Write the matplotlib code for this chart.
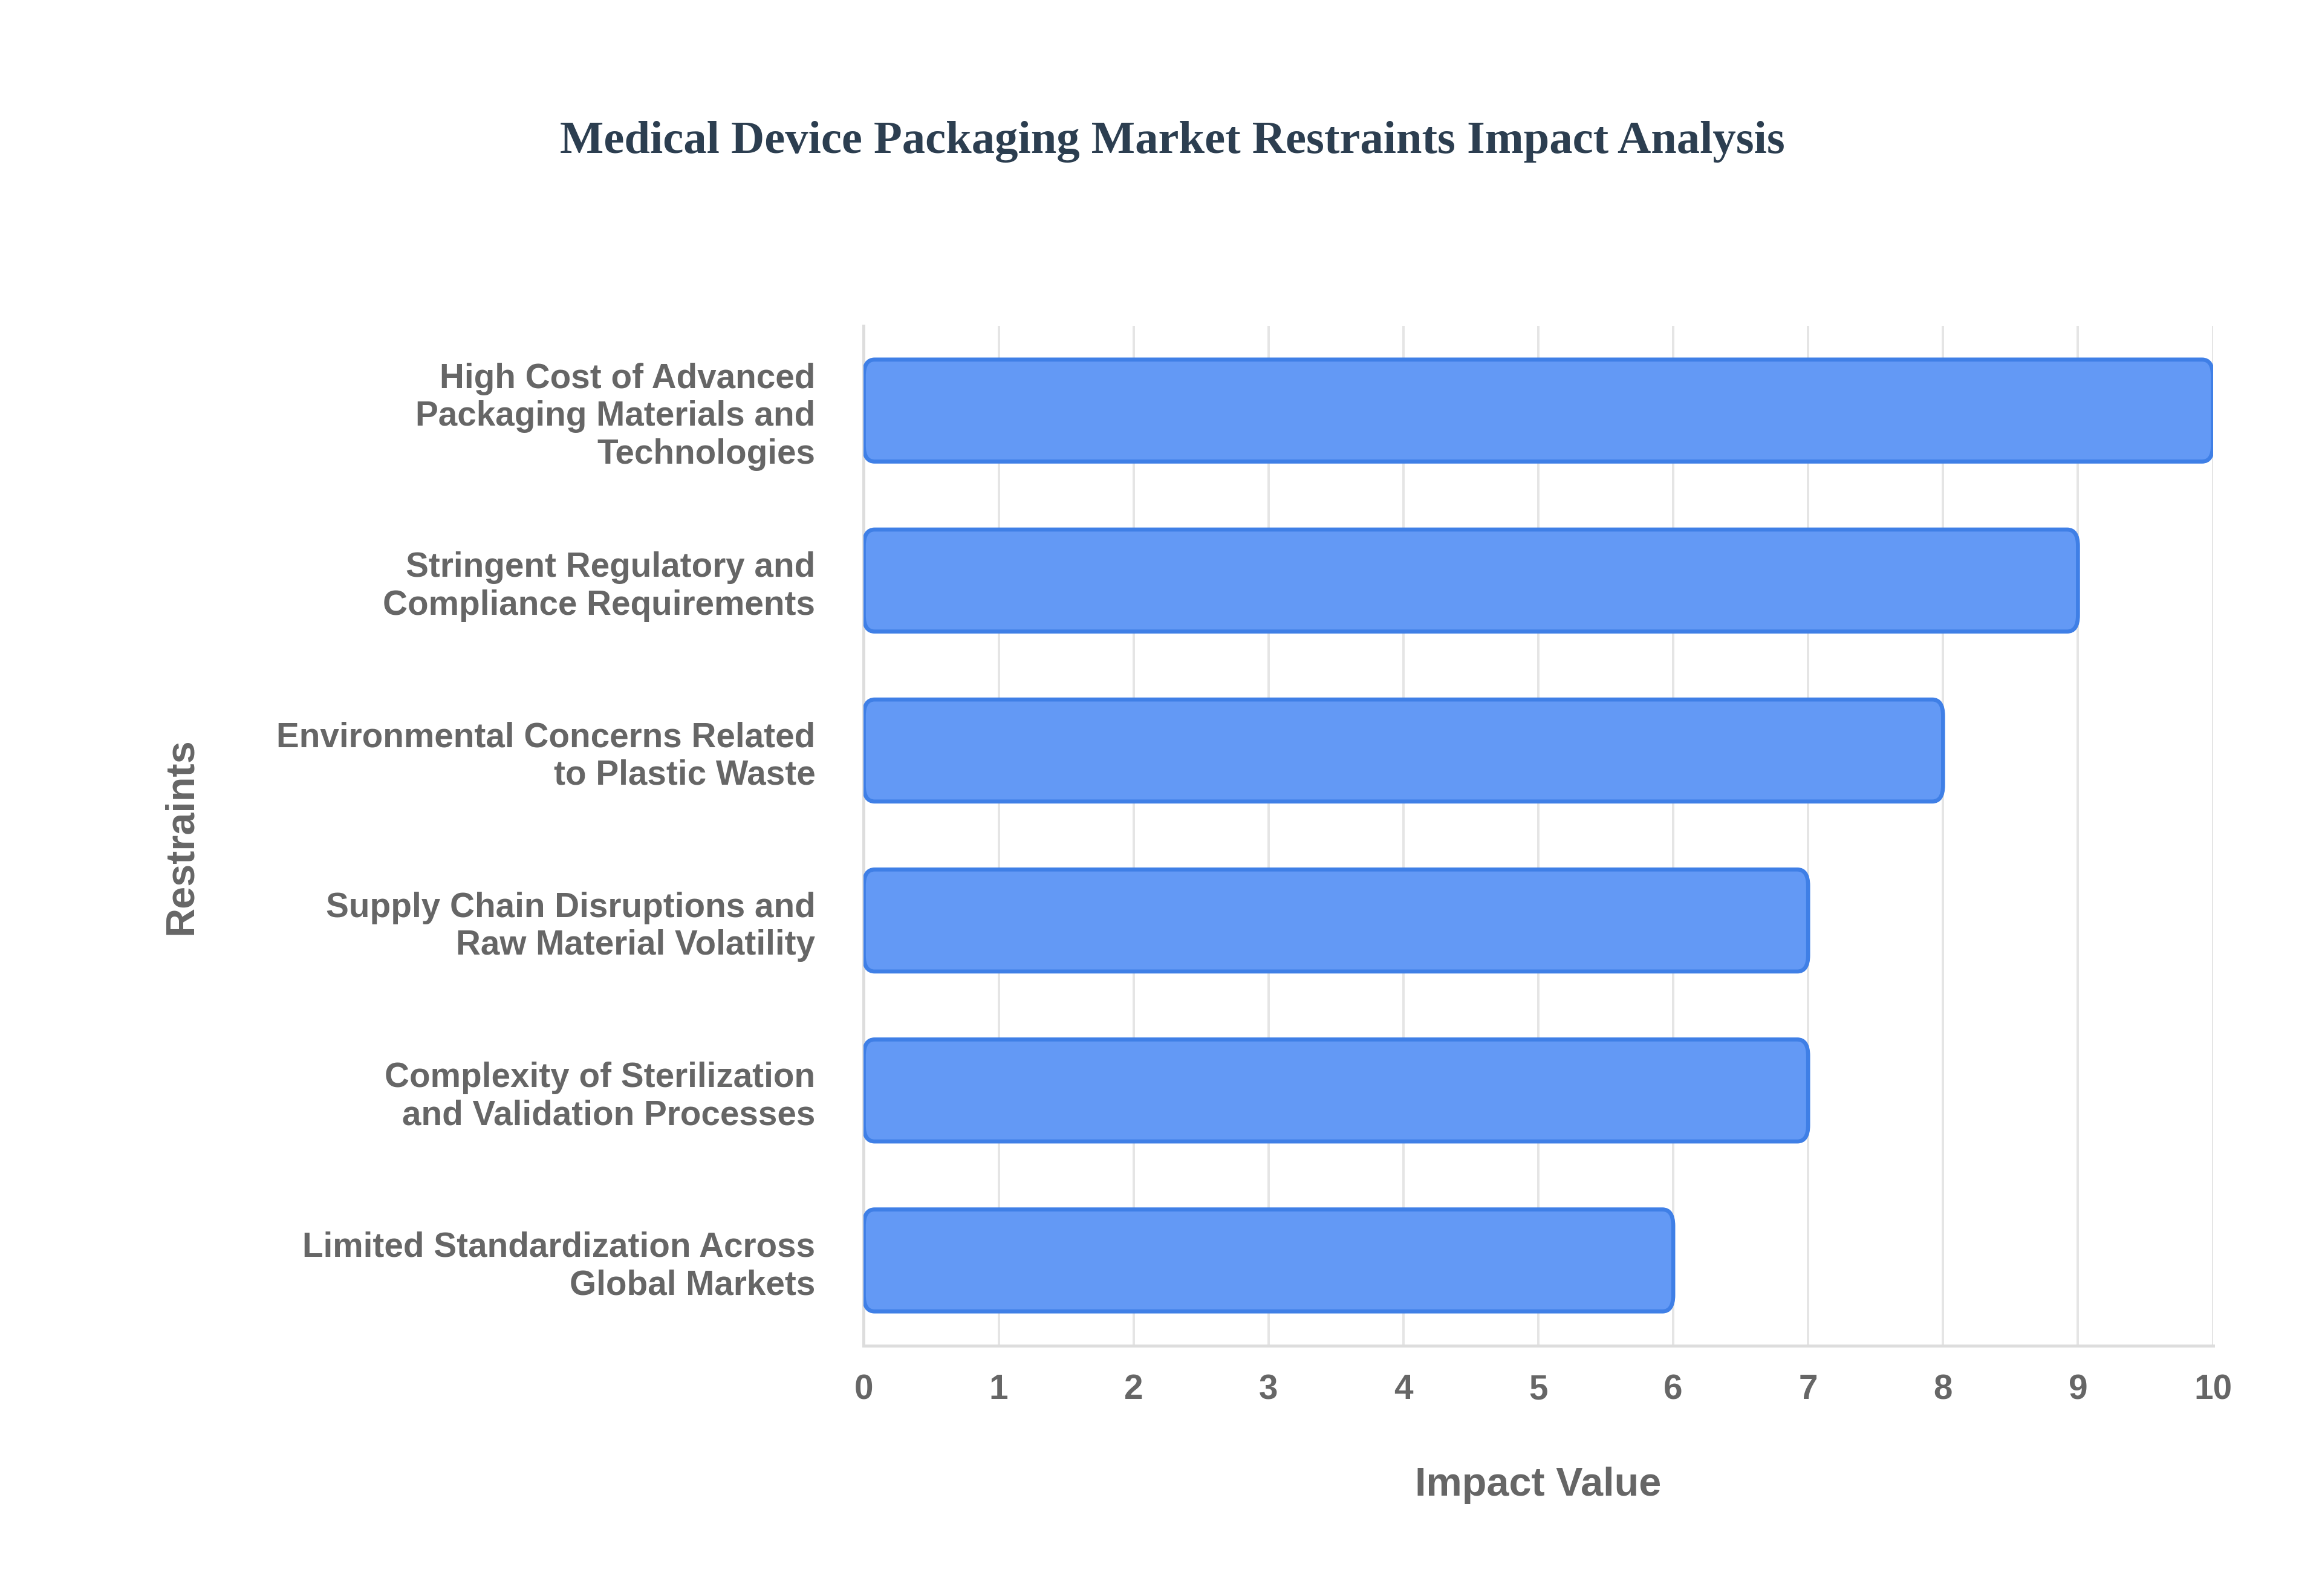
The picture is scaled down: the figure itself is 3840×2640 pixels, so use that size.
import matplotlib.pyplot as plt
from matplotlib.patches import FancyBboxPatch

restraints = [
    "High Cost of Advanced\nPackaging Materials and\nTechnologies",
    "Stringent Regulatory and\nCompliance Requirements",
    "Environmental Concerns Related\nto Plastic Waste",
    "Supply Chain Disruptions and\nRaw Material Volatility",
    "Complexity of Sterilization\nand Validation Processes",
    "Limited Standardization Across\nGlobal Markets",
]
impact = [10, 9, 8, 7, 7, 6]

plt.rcParams['font.family'] = ['Liberation Sans', 'DejaVu Sans']
fig = plt.figure(figsize=(16, 11), dpi=240)
ax = fig.add_axes([0.372, 0.157, 0.581, 0.639])

ypos = list(range(len(restraints)))[::-1]
bars = ax.barh(ypos, impact, height=0.6, color='none')
for b in bars:
    x, y, w, h = b.get_x(), b.get_y(), b.get_width(), b.get_height()
    p = FancyBboxPatch((x, y), w, h, boxstyle="round,pad=0,rounding_size=0.08",
                       mutation_aspect=1.2, facecolor='#6399F5', edgecolor='#3F7FE6',
                       linewidth=2, zorder=3)
    ax.add_patch(p)
    b.remove()

ax.set_xlim(0, 10)
ax.set_ylim(-0.5, 5.5)
ax.set_xticks(range(11))
ax.set_yticks(ypos)
ax.set_yticklabels(restraints, fontsize=17, fontweight='bold', color='#666666')
ax.tick_params(axis='x', labelsize=17, labelcolor='#666666', length=0, pad=14)
ax.tick_params(axis='y', length=0, pad=24)
for lab in ax.get_xticklabels():
    lab.set_fontweight('bold')
ax.grid(axis='x', color='#e5e5e5', linewidth=1.2, zorder=0)
for s in ['top', 'right']:
    ax.spines[s].set_visible(False)
ax.spines['left'].set_color('#dddddd')
ax.spines['bottom'].set_color('#dddddd')
ax.spines['left'].set_linewidth(1.5)
ax.spines['bottom'].set_linewidth(1.5)

ax.set_xlabel('Impact Value', fontsize=20, fontweight='bold', color='#666666', labelpad=30)
fig.text(0.078, 0.476, 'Restraints', rotation=90, fontsize=20, fontweight='bold',
         color='#666666', ha='center', va='center')
fig.text(0.505, 0.911, 'Medical Device Packaging Market Restraints Impact Analysis',
         fontsize=23, fontweight='bold', color='#2C3E50', ha='center', va='center',
         family=['Liberation Serif', 'DejaVu Serif'])

fig.savefig('out.png')
